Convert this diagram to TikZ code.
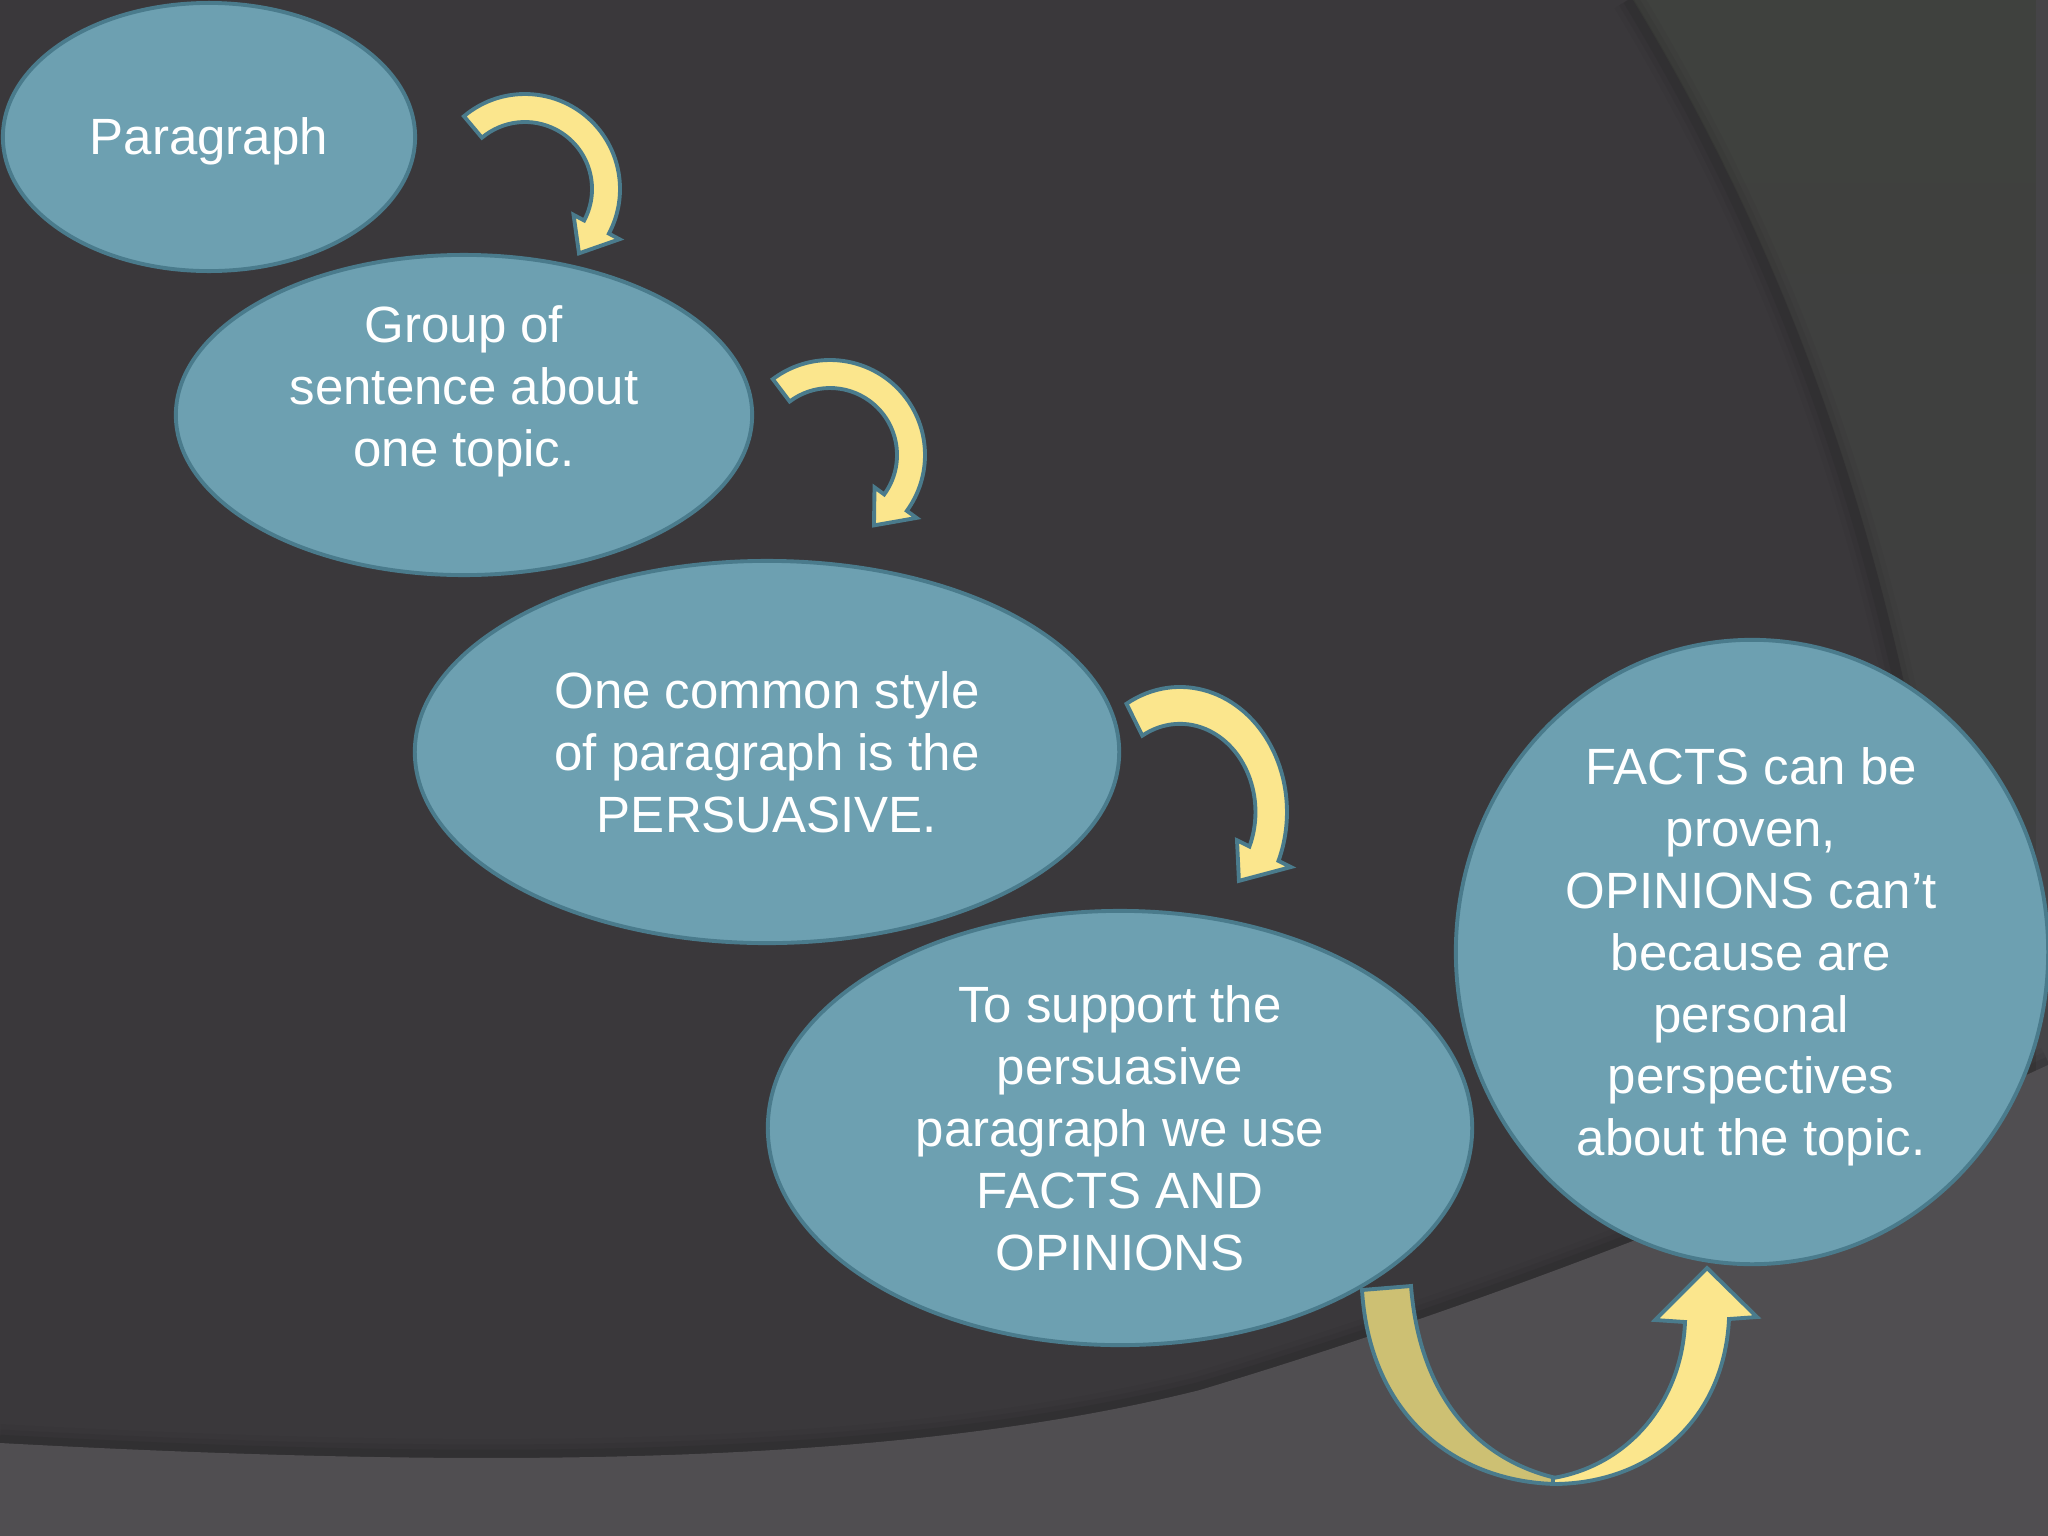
\documentclass[tikz,border=0pt]{standalone}
\usepackage{fontspec}
\setmainfont{Liberation Sans}
\usetikzlibrary{shapes.geometric}

\definecolor{bgdark}{HTML}{3A383B}
\definecolor{bgright}{HTML}{3F3E40}
\definecolor{bgrighttop}{HTML}{3F413E}
\definecolor{bgbottom}{HTML}{504E51}
\definecolor{bgedge}{HTML}{454447}
\definecolor{bubblefill}{HTML}{6DA0B1}
\definecolor{bubbleline}{HTML}{4A7B8C}
\definecolor{arrowfill}{HTML}{FBE68D}
\definecolor{arrowback}{HTML}{CDC073}

% curved block arrow: style, tail angle, head angle, tip radius
\newcommand{\roundarrow}[4]{%
  \draw[#1] (#2:95) arc[start angle=#2, end angle=#3, radius=95]
    -- (#3:107) -- ({#3+22}:#4) -- (#3:55) -- (#3:67)
    arc[start angle=#3, end angle=#2, radius=67] -- cycle;}

\begin{document}
\begin{tikzpicture}[x=0.01cm, y=0.01cm, yscale=-1,
  bubble/.style={ellipse, draw=bubbleline, line width=1.1pt, fill=bubblefill,
    text=white, align=center, inner sep=0pt,
    font=\fontsize{14.5}{17.6}\selectfont},
  bubbletext/.style={text=white, align=center, inner sep=0pt,
    font=\fontsize{14.5}{17.6}\selectfont},
  arrowline/.style={draw=bubbleline, line width=1.1pt, fill=arrowfill}]

% Background
\fill[bgdark] (0,0) rectangle (2048,1536);
\useasboundingbox (0,0) rectangle (2048,1536);
\shade[top color=bgrighttop, bottom color=bgright] (1633,0) .. controls (1760,210) and (1860,450) .. (1920,760)
  .. controls (1950,900) and (1975,1000) .. (1990,1100) -- (2048,1100) -- (2048,0) -- cycle;
\foreach \w/\o in {9pt/0.03, 6pt/0.04, 3pt/0.06}
  \draw[black, opacity=\o, line width=\w] (1628,0) .. controls (1755,210) and (1855,450) .. (1915,760);
\fill[bgedge] (2036,0) rectangle (2048,1536);
\foreach \w/\o in {9pt/0.03, 6pt/0.04, 3pt/0.06}
  \draw[black, opacity=\o, line width=\w] (0,1440) .. controls (500,1467) and (900,1462) .. (1200,1387)
    .. controls (1500,1297) and (1800,1177) .. (2048,1062);
\fill[bgbottom] (0,1443) .. controls (500,1470) and (900,1465) .. (1200,1390)
  .. controls (1500,1300) and (1800,1180) .. (2048,1065) -- (2048,1536) -- (0,1536) -- cycle;

% Bubbles
\node[bubble, minimum width=4.12cm, minimum height=2.68cm] (para) at (209,137) {};
\node[bubbletext] (paratext) at (209,141) {Paragraph};
\node[bubble, minimum width=5.76cm, minimum height=3.2cm] (group) at (464,415) {};
\node[bubbletext] (grouptext) at (464,391) {Group of\\sentence about\\one topic.};
\node[bubble, minimum width=7.04cm, minimum height=3.82cm] (style) at (767,752)
  {One common style\\of paragraph is the\\PERSUASIVE.};
\node[bubble, minimum width=7.04cm, minimum height=4.34cm] (support) at (1120,1128)
  {To support the\\persuasive\\paragraph we use\\FACTS AND\\OPINIONS};
\node[bubble, minimum width=5.92cm, minimum height=6.24cm] (facts) at (1752,952) {};
\node[bubbletext] (factstext) at (1751,957)
  {FACTS can be\\proven,\\OPINIONS can’t\\because are\\personal\\perspectives\\about the topic.};

% Curved arrows
\begin{scope}[shift={(525,189)}]
  \roundarrow{arrowline}{230}{388}{84}
\end{scope}
\begin{scope}[shift={(830,455)}]
  \roundarrow{arrowline}{233}{396}{83}
\end{scope}
\begin{scope}[shift={(1180,812)}, xscale=1.126, yscale=1.316]
  \roundarrow{arrowline}{240}{383}{74}
\end{scope}

% U-turn arrow
\draw[arrowline, fill=arrowback] (1362,1290) -- (1411,1286) .. controls (1420,1400) and (1480,1460) .. (1556,1478)
  -- (1556,1484) .. controls (1460,1482) and (1370,1420) .. (1362,1290) -- cycle;
\draw[arrowline] (1553,1478) .. controls (1630,1465) and (1682,1400) .. (1685,1322)
  -- (1655,1320) -- (1707,1268) -- (1757,1317) -- (1729,1319)
  .. controls (1724,1420) and (1650,1484) .. (1553,1484) -- cycle;

\end{tikzpicture}
\end{document}
